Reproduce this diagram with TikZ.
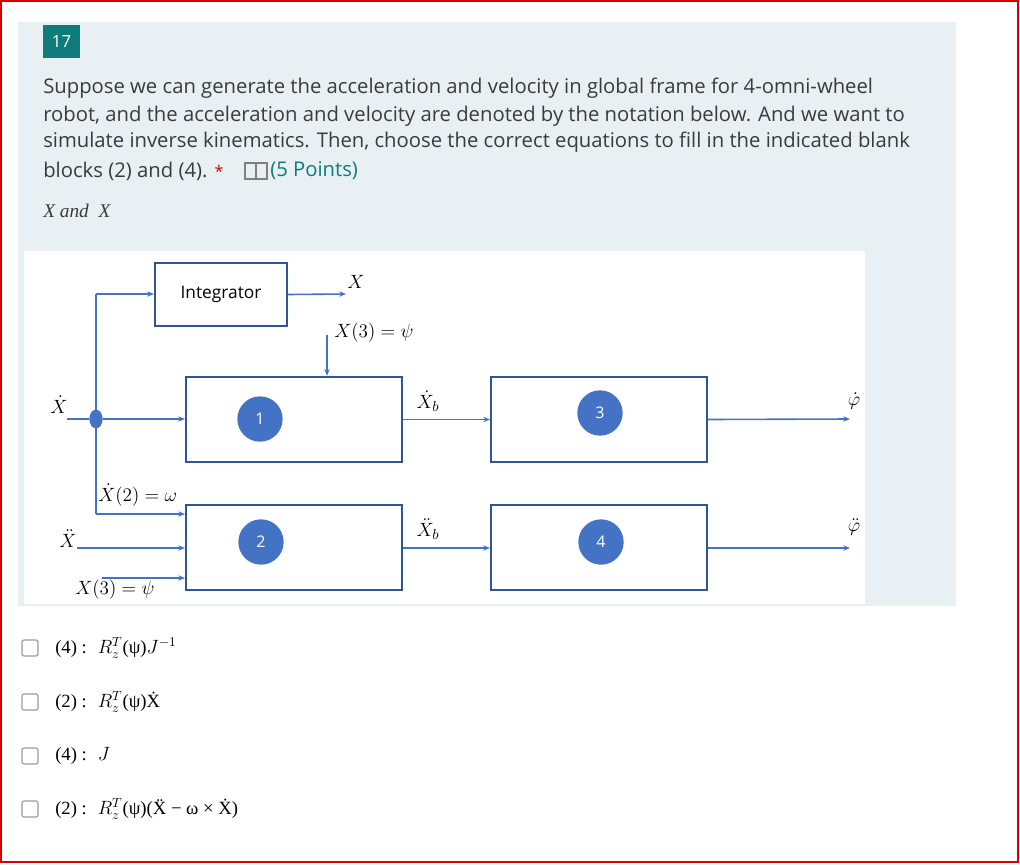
\documentclass[tikz,border=0pt]{standalone}
\usepackage{fontspec}
\usepackage{amsmath}
\setmainfont{Open Sans}
\newfontfamily\tms{Liberation Serif}
\usetikzlibrary{arrows.meta,shapes.geometric}
\definecolor{panel}{HTML}{E8F0F3}
\definecolor{teal}{HTML}{0E7C7B}
\definecolor{blk}{HTML}{2F5597}
\definecolor{ln}{HTML}{4472C4}
\definecolor{txt}{HTML}{3B3B3B}
\tikzset{
  blockbox/.style={draw=blk,line width=1.6pt},
  wire/.style={draw=ln,line width=1.2pt},
  arr/.style={wire,-{Stealth[length=5pt,width=4pt]}},
  num/.style={circle,fill=ln,text=white,inner sep=0pt,minimum size=34pt,font=\fontsize{12}{13}\selectfont},
  qline/.style={anchor=west,inner sep=0pt,text=txt,font=\fontsize{15.2}{17}\selectfont},
  mlab/.style={inner sep=0pt,font=\fontsize{15.5}{17}\selectfont},
  opt/.style={anchor=west,inner sep=0pt,font=\tms\fontsize{14}{16}\selectfont},
  chk/.style={draw=gray!80,rounded corners=1.5pt,line width=0.8pt,minimum size=12pt,inner sep=0pt}
}
\begin{document}
\begin{tikzpicture}[x=0.75pt,y=-0.75pt]
\useasboundingbox (0,0) rectangle (1020,864);
\draw[red!85!black,line width=1.2pt] (1,1) rectangle (1018,862);
\fill[panel] (18,22) rectangle (956,606);
\node[fill=teal,text=white,minimum width=28pt,minimum height=25pt,inner sep=0pt,font=\fontsize{12.5}{13}\selectfont] (badge) at (61.5,41.5) {17};
\node[qline] (q1) at (43,88) {Suppose we can generate the acceleration and velocity in global frame for 4-omni-wheel};
\node[qline] (q2) at (43,116) {robot, and the acceleration and velocity are denoted by the notation below. And we want to};
\node[qline] (q3) at (43,142) {simulate inverse kinematics. Then, choose the correct equations to fill in the indicated blank};
\node[qline] (q4) at (43,171) {blocks (2) and (4). \textcolor{red!80!black}{\fontsize{12}{13}\selectfont*}};
\draw[gray,line width=0.9pt] (245,163) rectangle (256,179) (256,163) rectangle (267,179);
\node[qline,text=teal] (pts) at (270,171) {(5 Points)};
\node[anchor=west,inner sep=0pt,font=\tms\itshape\fontsize{14.5}{16}\selectfont,text=txt] (xx) at (43,211) {X and \ X};
% diagram panel
\fill[white] (24,251) rectangle (865,604);
\node[blockbox,minimum width=99pt,minimum height=47pt,inner sep=0pt,font=\fontsize{13}{14}\selectfont] (int) at (221,294.5) {Integrator};
\node[blockbox,minimum width=162pt,minimum height=64pt] (b1) at (294,419.5) {};
\node[blockbox,minimum width=162pt,minimum height=64pt] (b2) at (294,547.5) {};
\node[blockbox,minimum width=162pt,minimum height=64pt] (b3) at (599,419.5) {};
\node[blockbox,minimum width=162pt,minimum height=64pt] (b4) at (599,547.5) {};
\node[num] (c1) at (260,419) {1};
\node[num] (c2) at (261,542) {2};
\node[num] (c3) at (600,413) {3};
\node[num] (c4) at (601,542) {4};
% junction
\node[ellipse,fill=ln,minimum width=10pt,minimum height=14pt,inner sep=0pt] (j) at (96,419) {};
\coordinate (xin) at (67,419);
\coordinate (top) at (96,294);
\coordinate (bot) at (96,514);
\coordinate (xout) at (346,294);
\coordinate (psi1) at (327,335);
\coordinate (o3) at (850,419);
\coordinate (o4) at (850,548);
\coordinate (xdd) at (77,548);
\coordinate (psi2) at (102,578);
\draw[wire] (xin) -- (j);
\draw[arr] (j) -- (b1.west |- j);
\draw[wire] (bot) -- (top);
\draw[arr] (top) -- (int.west |- top);
\draw[arr] (int.east) -- (xout);
\draw[arr] (psi1) -- (psi1 |- b1.north);
\draw[arr] (b1.east) -- (b3.west);
\draw[arr] (b3.east) -- (o3);
\draw[arr] (bot) -- (b2.west |- bot);
\draw[arr] (xdd) -- (b2.west |- xdd);
\draw[arr] (psi2) -- (b2.west |- psi2);
\draw[arr] (b2.east |- xdd) -- (b4.west |- xdd);
\draw[arr] (b4.east |- o4) -- (o4);
% labels
\node[mlab] (lx) at (356,282) {$X$};
\node[mlab,anchor=west] (lpsi1) at (334,333) {$X(3)=\psi$};
\node[mlab] (lxd) at (59,405) {$\dot X$};
\node[mlab] (lxdb) at (428,401) {$\dot X_b$};
\node[mlab] (lphid) at (854,401) {$\dot\varphi$};
\node[mlab,anchor=west] (lw) at (98,495) {$\dot X(2)=\omega$};
\node[mlab] (lxdd) at (68,539) {$\ddot X$};
\node[mlab] (lxddb) at (428,529) {$\ddot X_b$};
\node[mlab] (lphidd) at (854,527) {$\ddot\varphi$};
\node[mlab,anchor=west] (lpsi2) at (75,590) {$X(3)=\psi$};
% options
\node[chk] (k1) at (30,648) {};
\node[chk] (k2) at (30,702) {};
\node[chk] (k3) at (30,756) {};
\node[chk] (k4) at (30,809) {};
\node[opt] (o1) at (55,648) {(4) : \ $R_z^T$(ψ)$J^{-1}$};
\node[opt] (o2) at (55,702) {(2) : \ $R_z^T$(ψ)Ẋ};
\node[opt] (o3t) at (55,756) {(4) : \ $J$};
\node[opt] (o4t) at (55,809) {(2) : \ $R_z^T$(ψ)(Ẍ − ω × Ẋ)};
\end{tikzpicture}
\end{document}
